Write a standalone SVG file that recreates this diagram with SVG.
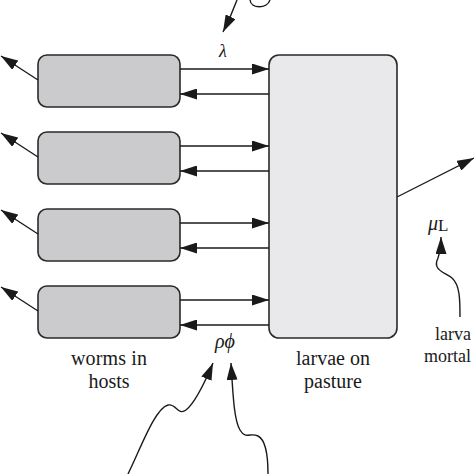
<svg xmlns="http://www.w3.org/2000/svg" width="474" height="474" viewBox="0 0 474 474">
<defs>
<marker id="ah" markerUnits="userSpaceOnUse" markerWidth="17" markerHeight="11" refX="17" refY="5.5" orient="auto">
<path d="M0,0 L17,5.5 L0,11 z" fill="#1a1a1a"/>
</marker>
</defs>
<style>
.host{fill:#cbcbcd;stroke:#2a2a2a;stroke-width:1.6}
.pool{fill:#e9e9eb;stroke:#2a2a2a;stroke-width:1.6}
.ln{fill:none;stroke:#1a1a1a;stroke-width:1.4}
.arr{fill:none;stroke:#1a1a1a;stroke-width:1.4;marker-end:url(#ah)}
.sym{font-style:italic}
</style>
<rect width="474" height="474" fill="#ffffff"/>
<g id="host1"><rect class="host" x="38" y="55" width="142" height="52" rx="9"/></g>
<g id="host2"><rect class="host" x="38" y="132" width="142" height="52" rx="9"/></g>
<g id="host3"><rect class="host" x="38" y="209" width="142" height="52" rx="9"/></g>
<g id="host4"><rect class="host" x="38" y="286" width="142" height="52" rx="9"/></g>
<g id="pasture"><rect class="pool" x="269" y="55" width="128" height="283" rx="10"/></g>
<g id="connectors">
<line class="arr" x1="180" y1="69" x2="269" y2="69"/>
<line class="arr" x1="269" y1="94" x2="180" y2="94"/>
<line class="arr" x1="180" y1="146" x2="269" y2="146"/>
<line class="arr" x1="269" y1="171" x2="180" y2="171"/>
<line class="arr" x1="180" y1="223" x2="269" y2="223"/>
<line class="arr" x1="269" y1="248" x2="180" y2="248"/>
<line class="arr" x1="180" y1="300" x2="269" y2="300"/>
<line class="arr" x1="269" y1="325" x2="180" y2="325"/>
<line class="arr" x1="38" y1="80" x2="1" y2="56"/>
<line class="arr" x1="38" y1="157" x2="1" y2="133"/>
<line class="arr" x1="38" y1="234" x2="1" y2="210"/>
<line class="arr" x1="38" y1="311" x2="1" y2="287"/>
<line class="arr" x1="397" y1="197" x2="474" y2="158"/>
<path class="arr" d="M237,0 C234,8 230,18 223,32"/>
<path class="ln" d="M250,0 C251,9 267,9 270,0"/>
<path class="arr" d="M128,474 C140,450 155,408 168,405 C176,403 178,416 186,410 C195,403 205,382 213,363"/>
<path class="arr" d="M268,474 C268,455 266,440 258,436 C250,432 246,440 240,430 C234,420 233,395 231,363"/>
<path class="arr" d="M460,317 C460,300 460,285 452,278 C444,272 432,270 438,258 C440,252 441,245 441,237"/>
</g>
<g id="labels" font-family="Liberation Serif, Tinos, Times New Roman, DejaVu Serif, Noto Serif, serif" font-size="20" fill="#1a1a1a">
<text class="sym" x="223" y="57" text-anchor="middle" font-size="18">λ</text>
<text class="sym" x="225" y="348" text-anchor="middle">ρϕ</text>
<text class="sym" x="428" y="230">μ<tspan font-style="normal" font-size="17" dy="1">L</tspan></text>
<text x="71" y="365" textLength="76">worms in</text>
<text x="109" y="388" text-anchor="middle">hosts</text>
<text x="296" y="365" textLength="74">larvae on</text>
<text x="333" y="388" text-anchor="middle">pasture</text>
<text x="471" y="340" text-anchor="end" font-size="18">larva</text>
<text x="471" y="362" text-anchor="end" font-size="18">mortal</text>
</g>
</svg>
